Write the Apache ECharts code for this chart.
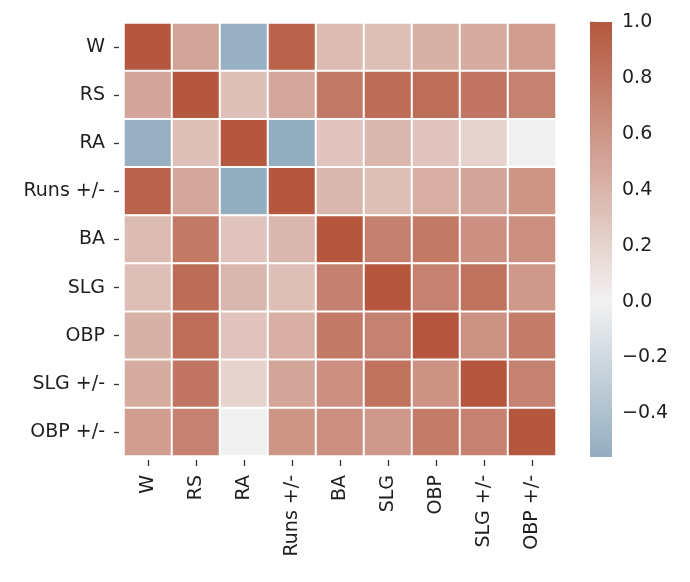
<!DOCTYPE html>
<html>
<head>
<meta charset="utf-8">
<script src="https://cdn.jsdelivr.net/npm/echarts@6/dist/echarts.min.js"></script>
<style>
  html, body { margin: 0; padding: 0; background: #ffffff; }
  #chart { width: 690px; height: 582px; }
</style>
</head>
<body>
<div id="chart"></div>
<script>
// ---- data ----
const categories = ['W', 'RS', 'RA', 'Runs +/-', 'BA', 'SLG', 'OBP', 'SLG +/-', 'OBP +/-'];
const rowW      = [1.00, 0.50, -0.53, 0.92, 0.36, 0.33, 0.42, 0.45, 0.55];
const rowRS     = [0.50, 1.00, 0.32, 0.48, 0.78, 0.86, 0.85, 0.80, 0.72];
const rowRA     = [-0.53, 0.32, 1.00, -0.556, 0.30, 0.38, 0.30, 0.20, 0.01];
const rowRuns   = [0.92, 0.48, -0.556, 1.00, 0.38, 0.33, 0.43, 0.50, 0.60];
const rowBA     = [0.36, 0.78, 0.30, 0.38, 1.00, 0.73, 0.78, 0.63, 0.64];
const rowSLG    = [0.33, 0.86, 0.38, 0.33, 0.73, 1.00, 0.72, 0.83, 0.58];
const rowOBP    = [0.42, 0.85, 0.30, 0.43, 0.78, 0.72, 1.00, 0.62, 0.76];
const rowSLGpm  = [0.45, 0.80, 0.20, 0.50, 0.63, 0.83, 0.62, 1.00, 0.72];
const rowOBPpm  = [0.55, 0.72, 0.01, 0.60, 0.64, 0.58, 0.76, 0.72, 1.00];
const matrix = [rowW, rowRS, rowRA, rowRuns, rowBA, rowSLG, rowOBP, rowSLGpm, rowOBPpm];
const colorbarTicks = [-0.4, -0.2, 0.0, 0.2, 0.4, 0.6, 0.8, 1.0];

// ---- build ----
const heatData = [];
matrix.forEach((row, r) => row.forEach((v, c) => heatData.push([c, r, v])));
let vmin = Infinity, vmax = -Infinity;
heatData.forEach(d => { vmin = Math.min(vmin, d[2]); vmax = Math.max(vmax, d[2]); });

// diverging colormap (blue - light gray - red), centered at 0
const negEnd = [71, 120, 152], mid = [242, 242, 242], posEnd = [180, 87, 62];
function cmap(v) {
  let b, t;
  if (v < 0) { b = negEnd; t = Math.min(1, -v); }
  else { b = posEnd; t = Math.min(1, v); }
  const c = mid.map((x, i) => Math.round(x + (b[i] - x) * t));
  return 'rgb(' + c.join(',') + ')';
}
const nStops = 64;
const stops = [];
for (let i = 0; i < nStops; i++) stops.push(cmap(vmin + (vmax - vmin) * i / (nStops - 1)));
const gradStops = [];
for (let i = 0; i < nStops; i++) gradStops.push({ offset: i / (nStops - 1), color: cmap(vmax - (vmax - vmin) * i / (nStops - 1)) });

const font = 'DejaVu Sans';
const txt = '#1f1f1f';
const fmt = v => {
  const s = Math.abs(v).toFixed(1);
  return (v < -1e-9 ? '\u2212' : '') + s;
};

const chart = echarts.init(document.getElementById('chart'), null, { renderer: 'canvas' });
chart.setOption({
  backgroundColor: '#ffffff',
  animation: false,
  textStyle: { fontFamily: font },
  grid: [
    { left: 124, top: 23, width: 432, height: 433 },
    { left: 590, top: 22, width: 22, height: 435 }
  ],
  xAxis: [
    {
      type: 'category', gridIndex: 0, data: categories, position: 'bottom', offset: 4,
      axisLine: { show: false },
      axisTick: { show: true, length: 6, lineStyle: { color: '#333', width: 1.3 }, alignWithLabel: true },
      axisLabel: { rotate: 90, margin: 15, fontSize: 19, color: txt, fontFamily: font, interval: 0 },
      splitLine: { show: false }
    },
    {
      type: 'value', gridIndex: 1, show: false, min: 0, max: 1
    }
  ],
  yAxis: [
    {
      type: 'category', gridIndex: 0, data: categories, inverse: true, offset: 5,
      axisLine: { show: false },
      axisTick: { show: true, length: 5, lineStyle: { color: '#333', width: 1.3 }, alignWithLabel: true },
      axisLabel: { margin: 14, fontSize: 19, color: txt, fontFamily: font, interval: 0 },
      splitLine: { show: false }
    },
    {
      type: 'value', gridIndex: 1, position: 'right', min: vmin, max: vmax,
      axisLine: { show: false },
      splitLine: { show: false },
      axisTick: { show: true, length: 5, lineStyle: { color: '#333', width: 1.3 }, customValues: colorbarTicks },
      axisLabel: { margin: 10, fontSize: 19, color: txt, fontFamily: font, customValues: colorbarTicks, formatter: fmt }
    }
  ],
  visualMap: {
    type: 'continuous', seriesIndex: 0, min: vmin, max: vmax, show: false,
    inRange: { color: stops }
  },
  series: [
    {
      type: 'heatmap', xAxisIndex: 0, yAxisIndex: 0, data: heatData,
      itemStyle: { borderColor: '#ffffff', borderWidth: 2 },
      emphasis: { disabled: true },
      label: { show: false }
    },
    {
      type: 'custom', xAxisIndex: 1, yAxisIndex: 1, silent: true,
      data: [[0, vmin, vmax]],
      renderItem: function (params, api) {
        const p0 = api.coord([0, api.value(2)]);
        const p1 = api.coord([1, api.value(1)]);
        return {
          type: 'rect',
          shape: { x: p0[0], y: p0[1], width: p1[0] - p0[0], height: p1[1] - p0[1] },
          style: { fill: new echarts.graphic.LinearGradient(0, 0, 0, 1, gradStops) }
        };
      }
    }
  ]
});
</script>
</body>
</html>
